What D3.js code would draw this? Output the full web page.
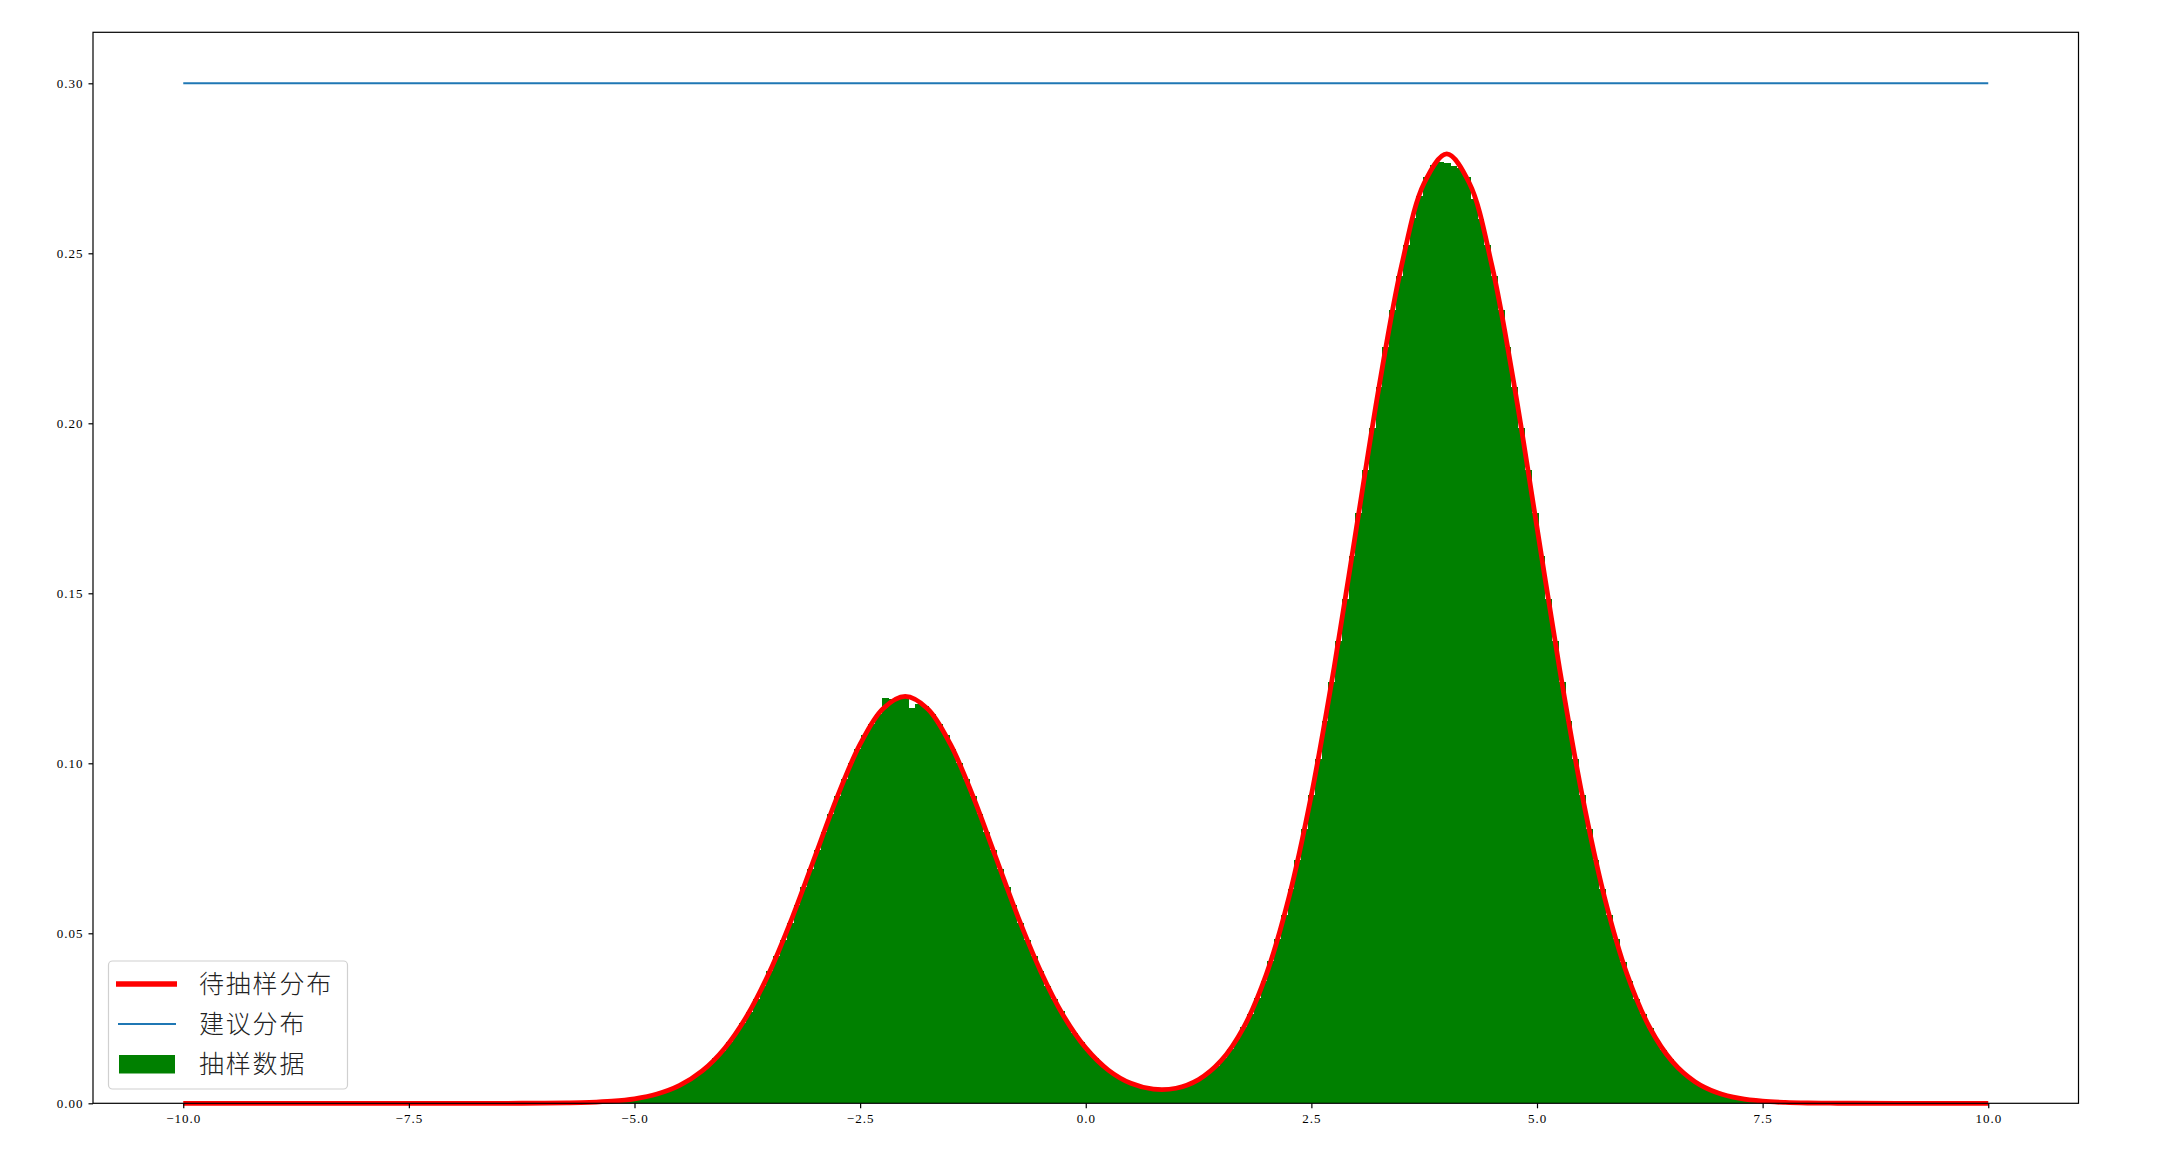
<!DOCTYPE html>
<html lang="zh">
<head>
<meta charset="UTF-8" />
<title>MCMC 抽样</title>
<script src="https://d3js.org/d3.v7.min.js"></script>
<style>
    body { margin: 0; background: #fff; }
    .tick text { font-family: 'Liberation Serif', 'DejaVu Serif', serif; font-size: 13px; letter-spacing: 1px; fill: #000; }
    .legend text { font-family: 'Noto Sans CJK SC', sans-serif; font-size: 25px; font-weight: 300; letter-spacing: 1.8px; fill: #222; }
</style>
</head>
<body>
<svg width="2168" height="1158"></svg>
<script>

// tick values and labels
var xTicks = [-10, -7.5, -5, -2.5, 0, 2.5, 5, 7.5, 10];
var xTickLabels = ["\u221210.0", "\u22127.5", "\u22125.0", "\u22122.5", "0.0", "2.5", "5.0", "7.5", "10.0"];
var yTicks = [0, 0.05, 0.10, 0.15, 0.20, 0.25, 0.30];
var yTickLabels = ["0.00", "0.05", "0.10", "0.15", "0.20", "0.25", "0.30"];

// legend entries
var legendNames = ["待抽样分布", "建议分布", "抽样数据"];

// proposal distribution (flat line)
var proposalX = [-10, 10];
var proposalY = [0.30, 0.30];

// target distribution
var targetX = [-10, -8.5, -7, -6.75, -6.5, -6.25, -6, -5.75, -5.5, -5.25, -5, -4.75, -4.5, -4.25,
    -4, -3.75, -3.5, -3.25, -3, -2.75, -2.5, -2.25, -2, -1.75, -1.5, -1.25, -1, -0.75,
    -0.5, -0.25, 0, 0.25, 0.5, 0.75, 1, 1.25, 1.5, 1.75, 2, 2.25, 2.5, 2.75, 3, 3.25,
    3.5, 3.75, 4, 4.25, 4.5, 4.75, 5, 5.25, 5.5, 5.75, 6, 6.25, 6.5, 6.75, 7, 7.25,
    7.5, 7.75, 8, 8.25, 8.5, 9, 10];
var targetY = [0, 0, 0, 0, 0, 0.00001, 0.00004, 0.00011, 0.00026, 0.00061, 0.00133, 0.00273, 0.00526, 0.00952,
    0.01620, 0.02588, 0.03886, 0.05479, 0.07259, 0.09034, 0.10562, 0.11600, 0.11968, 0.11600, 0.10562, 0.09034, 0.07259, 0.05479,
    0.03887, 0.02591, 0.01629, 0.00977, 0.00587, 0.00415, 0.00443, 0.00698, 0.01253, 0.02233, 0.03783, 0.06040, 0.09066, 0.12785, 0.16938, 0.21080,
    0.24645, 0.27067, 0.27926, 0.27067, 0.24645, 0.21080, 0.16938, 0.12785, 0.09066, 0.06039, 0.03779, 0.02222, 0.01227, 0.00637, 0.00310, 0.00142,
    0.00061, 0.00025, 0.00009, 0.00003, 0.00001, 0, 0];

// sampled data histogram: 200 bins, density
var histStart = -6.3125;
var histWidth = 0.075;
var histDensity = [
    0.0000, 0.0000, 0.0000, 0.0000, 0.0001, 0.0001, 0.0001, 0.0001, 0.0001, 0.0002,
    0.0002, 0.0003, 0.0004, 0.0005, 0.0007, 0.0008, 0.0011, 0.0013, 0.0017, 0.0021,
    0.0026, 0.0031, 0.0038, 0.0046, 0.0056, 0.0067, 0.0080, 0.0095, 0.0112, 0.0132,
    0.0154, 0.0179, 0.0206, 0.0237, 0.0270, 0.0307, 0.0346, 0.0389, 0.0434, 0.0481,
    0.0531, 0.0583, 0.0636, 0.0690, 0.0744, 0.0798, 0.0852, 0.0903, 0.0953, 0.1000,
    0.1043, 0.1082, 0.1116, 0.1144, 0.1192, 0.1190, 0.1194, 0.1197, 0.1162, 0.1175,
    0.1170, 0.1144, 0.1116, 0.1082, 0.1043, 0.1000, 0.0953, 0.0903, 0.0852, 0.0798,
    0.0744, 0.0690, 0.0636, 0.0583, 0.0531, 0.0481, 0.0434, 0.0389, 0.0346, 0.0307,
    0.0271, 0.0237, 0.0207, 0.0180, 0.0155, 0.0133, 0.0114, 0.0098, 0.0084, 0.0072,
    0.0062, 0.0054, 0.0048, 0.0043, 0.0041, 0.0040, 0.0041, 0.0044, 0.0049, 0.0057,
    0.0066, 0.0078, 0.0093, 0.0111, 0.0133, 0.0159, 0.0189, 0.0223, 0.0263, 0.0309,
    0.0360, 0.0418, 0.0482, 0.0553, 0.0631, 0.0716, 0.0808, 0.0907, 0.1012, 0.1123,
    0.1239, 0.1359, 0.1483, 0.1609, 0.1736, 0.1863, 0.1987, 0.2108, 0.2224, 0.2333,
    0.2433, 0.2524, 0.2603, 0.2670, 0.2723, 0.2761, 0.2770, 0.2765, 0.2758, 0.2752,
    0.2723, 0.2660, 0.2600, 0.2524, 0.2433, 0.2333, 0.2224, 0.2108, 0.1987, 0.1863,
    0.1736, 0.1609, 0.1483, 0.1359, 0.1239, 0.1123, 0.1012, 0.0907, 0.0808, 0.0716,
    0.0631, 0.0553, 0.0482, 0.0417, 0.0359, 0.0308, 0.0262, 0.0222, 0.0187, 0.0157,
    0.0131, 0.0108, 0.0089, 0.0073, 0.0059, 0.0048, 0.0039, 0.0031, 0.0025, 0.0020,
    0.0015, 0.0012, 0.0009, 0.0007, 0.0006, 0.0004, 0.0003, 0.0003, 0.0002, 0.0001,
    0.0001, 0.0001, 0.0001, 0.0000, 0.0000, 0.0000, 0.0000, 0.0000, 0.0000, 0.0000
];

var svg = d3.select("svg");
var plotLeft = 93, plotRight = 2078.5, plotTop = 32.3, plotBottom = 1103.3;

var x = d3.scaleLinear().domain([-11, 11]).range([plotLeft, plotRight]);
var y = d3.scaleLinear().domain([0, 0.315]).range([plotBottom, plotTop]);

// histogram bars
svg.append("g")
    .attr("fill", "#008000")
    .attr("shape-rendering", "crispEdges")
  .selectAll("rect")
  .data(histDensity)
  .enter().append("rect")
    .attr("x", function(d, i) { return x(histStart + i * histWidth); })
    .attr("width", function(d, i) { return x(histStart + (i + 1) * histWidth) - x(histStart + i * histWidth) + 0.4; })
    .attr("y", function(d) { return y(d); })
    .attr("height", function(d) { return y(0) - y(d); });

// red target curve
var targetLine = d3.line()
    .x(function(d, i) { return x(targetX[i]); })
    .y(function(d) { return y(d); })
    .curve(d3.curveCatmullRom.alpha(0.5));

svg.append("path")
    .datum(targetY)
    .attr("fill", "none")
    .attr("stroke", "#ff0000")
    .attr("stroke-width", 4.8)
    .attr("stroke-linejoin", "round")
    .attr("d", targetLine);

// blue proposal line
svg.append("path")
    .datum(proposalY)
    .attr("fill", "none")
    .attr("stroke", "#1f77b4")
    .attr("stroke-width", 2)
    .attr("d", d3.line()
        .x(function(d, i) { return x(proposalX[i]); })
        .y(function(d) { return y(d); }));

// axes
var xAxis = svg.append("g")
    .attr("transform", "translate(0," + plotBottom + ")")
    .call(d3.axisBottom(x).tickValues(xTicks)
        .tickFormat(function(d, i) { return xTickLabels[i]; })
        .tickSize(5).tickPadding(5));
xAxis.select(".domain").remove();

var yAxis = svg.append("g")
    .attr("transform", "translate(" + plotLeft + ",0)")
    .call(d3.axisLeft(y).tickValues(yTicks)
        .tickFormat(function(d, i) { return yTickLabels[i]; })
        .tickSize(4.5).tickPadding(5));
yAxis.select(".domain").remove();

svg.selectAll(".tick line").attr("stroke", "#000").attr("stroke-width", 1.2);

// frame
svg.append("rect")
    .attr("x", plotLeft).attr("y", plotTop)
    .attr("width", plotRight - plotLeft).attr("height", plotBottom - plotTop)
    .attr("fill", "none").attr("stroke", "#000").attr("stroke-width", 1.2);

// legend
var legend = svg.append("g").attr("class", "legend");
legend.append("rect")
    .attr("x", 108.5).attr("y", 961)
    .attr("width", 239).attr("height", 128)
    .attr("rx", 4)
    .attr("fill", "#fff").attr("fill-opacity", 0.8)
    .attr("stroke", "#d0d0d0").attr("stroke-width", 1.2);

var rowY = [984, 1024, 1064];
legend.append("line")
    .attr("x1", 116).attr("x2", 177).attr("y1", rowY[0]).attr("y2", rowY[0])
    .attr("stroke", "#ff0000").attr("stroke-width", 5.5);
legend.append("line")
    .attr("x1", 118).attr("x2", 176).attr("y1", rowY[1]).attr("y2", rowY[1])
    .attr("stroke", "#1f77b4").attr("stroke-width", 2);
legend.append("rect")
    .attr("x", 119).attr("y", 1055).attr("width", 56).attr("height", 18.5)
    .attr("fill", "#008000");

legend.selectAll("text")
    .data(legendNames)
    .enter().append("text")
    .attr("x", 199)
    .attr("y", function(d, i) { return rowY[i]; })
    .attr("dy", "0.36em")
    .text(function(d) { return d; });

</script>
</body>
</html>
